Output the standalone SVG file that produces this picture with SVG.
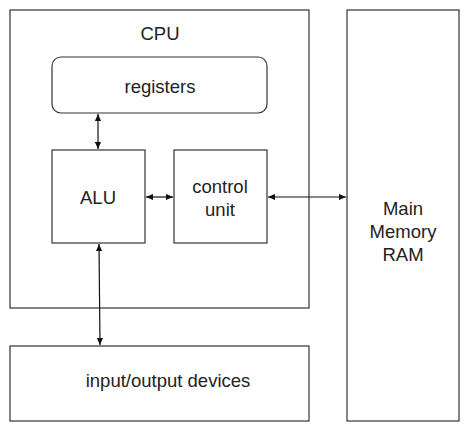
<svg xmlns="http://www.w3.org/2000/svg" width="474" height="431" viewBox="0 0 474 431">
<style>
.box{fill:#fff;stroke:#333;stroke-width:1.2}
.t{font-family:"Liberation Sans",Arial,sans-serif;font-size:18.5px;fill:#222;text-anchor:middle;dominant-baseline:central}
.c{stroke:#111;stroke-width:1.2;fill:none;marker-start:url(#a);marker-end:url(#a)}
</style>
<defs>
<marker id="a" viewBox="0 0 8 8" refX="8" refY="4" markerWidth="7" markerHeight="7" markerUnits="userSpaceOnUse" orient="auto-start-reverse">
<path d="M0,0.5 L8,4 L0,7.5 Z" fill="#111"/>
</marker>
</defs>
<rect width="474" height="431" fill="#fff"/>
<g id="cpu"><rect class="box" x="10" y="10" width="299" height="298"/><text class="t" x="160" y="33">CPU</text></g>
<g id="ram"><rect class="box" x="347" y="10" width="112" height="411"/><text class="t" x="403" y="208">Main</text><text class="t" x="403" y="231">Memory</text><text class="t" x="403" y="254">RAM</text></g>
<g id="registers"><rect class="box" x="52" y="57" width="215" height="56" rx="9"/><text class="t" x="160" y="86">registers</text></g>
<g id="alu"><rect class="box" x="52" y="150" width="93" height="93"/><text class="t" x="98" y="197">ALU</text></g>
<g id="control"><rect class="box" x="174" y="150" width="93" height="93"/><text class="t" x="220" y="186">control</text><text class="t" x="220" y="209">unit</text></g>
<g id="io"><rect class="box" x="10" y="346" width="299" height="75"/><text class="t" x="168" y="380">input/output devices</text></g>
<g id="connectors">
<line class="c" x1="98" y1="114" x2="98" y2="149"/>
<line class="c" x1="146" y1="197" x2="173" y2="197"/>
<line class="c" x1="268" y1="197" x2="346" y2="197"/>
<line class="c" x1="99" y1="244" x2="100" y2="345"/>
</g>
</svg>
